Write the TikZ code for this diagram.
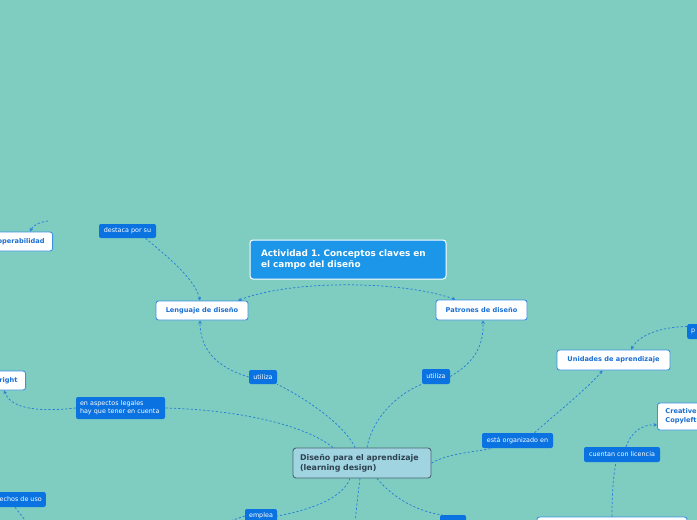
\documentclass[tikz,border=0pt]{standalone}
\usepackage{fontspec}
\setmainfont{DejaVu Sans}
\usetikzlibrary{arrows.meta}
\definecolor{bgc}{HTML}{7ECDC0}
\definecolor{labf}{HTML}{0A73E1}
\definecolor{nodeb}{HTML}{3C91E1}
\definecolor{nodet}{HTML}{1A6ED2}
\definecolor{connc}{HTML}{2A7ED8}
\definecolor{titf}{HTML}{1B96E8}
\definecolor{cenf}{HTML}{A0D4E0}
\definecolor{cenb}{HTML}{3C505F}
\definecolor{cent}{HTML}{2D4150}
\frenchspacing
\tikzset{
  topic/.style={draw=nodeb, fill=white, rounded corners=2.5pt, line width=0.9pt,
    text=nodet, font=\bfseries\fontsize{6.6}{8}\selectfont, inner xsep=6pt, inner ysep=0pt,
    minimum height=19pt},
  lab/.style={fill=labf, rounded corners=2pt, text=white,
    font=\fontsize{6.4}{8}\selectfont, inner xsep=4pt, inner ysep=0pt, minimum height=14pt},
  conn/.style={draw=connc, line width=0.75pt, dash pattern=on 2.2pt off 2pt},
  tip/.style={-{Stealth[length=3.5pt,width=3.5pt]}},
}
\begin{document}
\begin{tikzpicture}[x=1pt,y=-1pt]
\useasboundingbox (0,0) rectangle (697,520);
\fill[bgc] (0,0) rectangle (697,520);
\clip (0,0) rectangle (697,520);

% nodes
\node[fill=titf, draw=white, line width=1pt, rounded corners=3pt, text=white,
  font=\bfseries\fontsize{8.9}{11}\selectfont, align=left, text width=174pt,
  inner xsep=11pt, inner ysep=0pt, minimum width=196pt, minimum height=39pt]
  (title) at (348,259.5) {Actividad 1. Conceptos claves en\\el campo del diseño};
\node[topic, minimum width=92pt] (leng) at (202,310.5) {Lenguaje de diseño};
\node[topic, minimum width=91pt, minimum height=20pt] (patr) at (481.5,310) {Patrones de diseño};
\node[lab, minimum width=57pt] (destaca) at (127.5,231) {destaca por su};
\node[topic, anchor=east, inner xsep=8pt] (interop) at (53,241.5) {Interoperabilidad};
\node[topic, anchor=east, inner xsep=8pt] (copy) at (26,380.5) {Copyright};
\node[lab, minimum width=89pt, minimum height=22pt, align=left, text width=81pt,
  font=\fontsize{6.4}{8.4}\selectfont] (legal) at (120.5,408)
  {en aspectos legales\\hay que tener en cuenta};
\node[lab, minimum width=28pt] (util1) at (263,377) {utiliza};
\node[lab, minimum width=28pt, minimum height=15pt] (util2) at (436,376.5) {utiliza};
\node[fill=cenf, draw=cenb!85!cenf, line width=0.9pt, rounded corners=3pt, text=cent,
  font=\bfseries\fontsize{7.9}{10.3}\selectfont, align=left, text width=124pt,
  inner xsep=7pt, inner ysep=0pt, minimum width=136pt, minimum height=30pt]
  (central) at (362,463) {Diseño para el aprendizaje\\(learning design)};
\node[lab, minimum width=71pt, minimum height=15pt] (organ) at (517.5,440.5) {está organizado en};
\node[topic, minimum width=113pt, minimum height=20pt] (unid) at (613.5,360) {Unidades de aprendizaje};
\node[lab, anchor=west, minimum width=40pt, minimum height=15pt, align=left, text width=32pt] (plab) at (687,331.5) {p};
\node[topic, anchor=west, minimum height=27pt, align=left, text width=60pt,
  font=\bfseries\fontsize{6.6}{9.3}\selectfont, inner xsep=8pt] (creat) at (657,416.5) {Creative\\Copyleft};
\node[lab, minimum width=76pt, minimum height=15pt] (cuent) at (622,454.5) {cuentan con licencia};
\node[topic, minimum width=150pt, minimum height=26pt] (bottom) at (612,530) {};
\node[lab, anchor=east, minimum height=15pt] (derech) at (46,499.5) {Derechos de uso};
\node[lab, minimum width=32pt] (emplea) at (261,516) {emplea};
\node[lab, minimum width=26pt, minimum height=24pt] (blab) at (453,527) {};

% free ends
\coordinate (iosrc) at (48,221);
\coordinate (downend) at (355,526);
\coordinate (emleft) at (224,523);
\coordinate (derup) at (-3,483);
\coordinate (derdown) at (28,524);

% connectors
\draw[conn, {Stealth[length=3.5pt,width=3.5pt]}-{Stealth[length=3.5pt,width=3.5pt]}]
  ([xshift=36pt]leng.north) .. controls (290,280) and (400,280) .. ([xshift=-26pt]patr.north);
\draw[conn, tip] ([xshift=18pt]destaca.south) .. controls (165,255) and (195,278) .. ([xshift=-2pt]leng.north);
\draw[conn, tip] (iosrc) .. controls (40,222) and (33,225) .. ([xshift=-23pt]interop.north east);
\draw[conn] ([xshift=-29pt]central.north) .. controls (305,425) and (240,410) .. (legal.east);
\draw[conn, tip] (legal.west) .. controls (30,413) and (10,406) .. ([xshift=-22pt]copy.south east);
\draw[conn] ([xshift=-7pt]central.north) .. controls (345,425) and (305,398) .. (util1.south east);
\draw[conn, tip] (util1.west) .. controls (215,367) and (200,348) .. ([xshift=-2pt]leng.south);
\draw[conn] ([xshift=5pt]central.north) .. controls (372,420) and (395,395) .. (util2.south west);
\draw[conn, tip] (util2.east) .. controls (472,364) and (484,348) .. ([xshift=1.5pt]patr.south);
\draw[conn] (central.east) .. controls (452,452) and (478,452) .. ([xshift=-25pt]organ.south);
\draw[conn, tip] ([xshift=17pt]organ.north) .. controls (560,410) and (588,388) .. ([xshift=-11pt]unid.south);
\draw[conn, tip] ([yshift=5pt]plab.west) .. controls (662,327) and (640,334) .. ([xshift=17.5pt]unid.north);
\draw[conn, tip] ([xshift=4pt]cuent.north) .. controls (630,435) and (640,424) .. ([yshift=-8.5pt]creat.west);
\draw[conn] (bottom.north) .. controls (612,495) and (613,478) .. ([xshift=-6pt]cuent.south);
\draw[conn] ([xshift=-12pt]central.south) .. controls (342,500) and (305,511) .. (emplea.east);
\draw[conn] ([xshift=-2pt]central.south) .. controls (358,495) and (356,510) .. (downend);
\draw[conn] ([xshift=15pt]central.south) .. controls (395,500) and (420,512) .. ([xshift=-11pt]blab.north);
\draw[conn] (emplea.west) -- (emleft);
\draw[conn] ([xshift=1pt]derech.north west) -- (derup);
\draw[conn] ([xshift=-31pt]derech.south east) -- (derdown);
\end{tikzpicture}
\end{document}
